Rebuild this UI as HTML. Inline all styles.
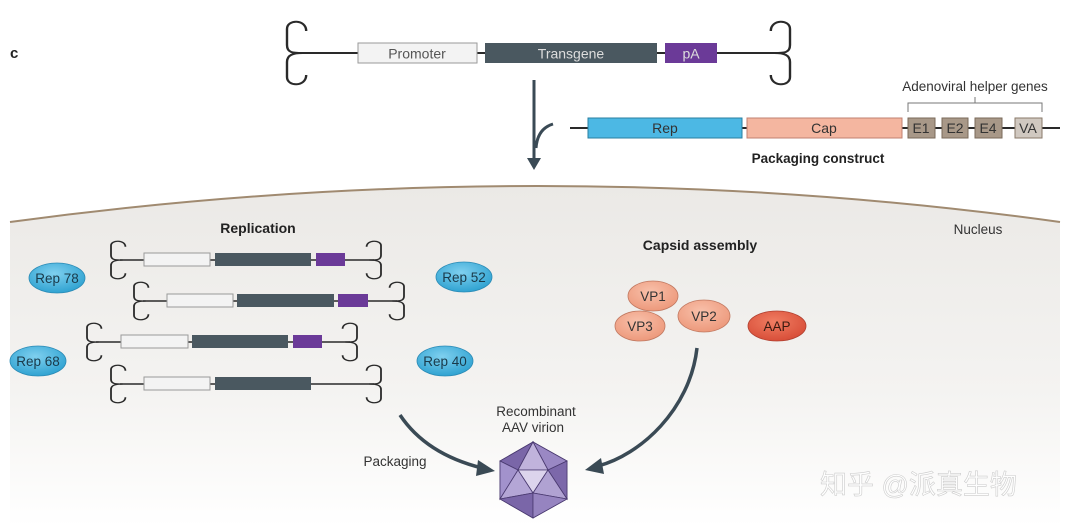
<!DOCTYPE html>
<html><head><meta charset="utf-8"><style>
html,body{margin:0;padding:0;background:#fff;}
svg{display:block;font-family:"Liberation Sans","Noto Sans CJK SC",sans-serif;}
</style></head><body>
<svg width="1080" height="527" viewBox="0 0 1080 527" xmlns="http://www.w3.org/2000/svg">
<defs>
<linearGradient id="nuc" x1="0" y1="0" x2="0" y2="1">
<stop offset="0" stop-color="#ebe9e6"/><stop offset="0.6" stop-color="#f4f3f1"/><stop offset="1" stop-color="#ffffff"/></linearGradient>
<radialGradient id="rep" cx="0.45" cy="0.35" r="0.7"><stop offset="0" stop-color="#7fd0ef"/><stop offset="1" stop-color="#2a9fcf"/></radialGradient>
<radialGradient id="vp" cx="0.45" cy="0.35" r="0.7"><stop offset="0" stop-color="#f8c0aa"/><stop offset="1" stop-color="#ec9678"/></radialGradient>
<radialGradient id="aap" cx="0.45" cy="0.35" r="0.7"><stop offset="0" stop-color="#f07d62"/><stop offset="1" stop-color="#d64a35"/></radialGradient>
<path id="itrL" d="M16,-22 C16,-34 0,-34 0,-24 L0,-8 C0,0 5,0 13,0 M13,0 C5,0 0,2 0,9 L0,24 C0,34 16,34 16,22" fill="none" stroke="#2a2a2a" stroke-width="2"/>
<path id="itrR" d="M-16,-22 C-16,-34 0,-34 0,-24 L0,-8 C0,0 -5,0 -13,0 M-13,0 C-5,0 0,2 0,9 L0,24 C0,34 -16,34 -16,22" fill="none" stroke="#2a2a2a" stroke-width="2"/>
</defs>
<!-- nucleus -->
<path d="M10,222 Q540,150 1060,222 L1060,527 L10,527 Z" fill="url(#nuc)"/>
<path d="M10,222 Q540,150 1060,222" fill="none" stroke="#a08a70" stroke-width="2"/>

<text x="10" y="58" font-size="15" font-weight="bold" fill="#222">c</text>

<!-- top vector -->
<line x1="298" y1="53" x2="778" y2="53" stroke="#2a2a2a" stroke-width="2"/>
<g transform="translate(287,53) scale(1.2,1.0)"><use href="#itrL"/></g>
<g transform="translate(790,53) scale(1.2,1.0)"><use href="#itrR"/></g>
<rect x="358" y="43" width="119" height="20" fill="#f3f3f3" stroke="#999"/>
<rect x="485" y="43" width="172" height="20" fill="#4a5860"/>
<rect x="665" y="43" width="52" height="20" fill="#6b3a98"/>
<text x="417" y="58.5" font-size="14" fill="#555" text-anchor="middle">Promoter</text>
<text x="571" y="58.5" font-size="14" fill="#ddd" text-anchor="middle">Transgene</text>
<text x="691" y="58.5" font-size="14" fill="#ddd" text-anchor="middle">pA</text>

<!-- arrow down -->
<line x1="534" y1="80" x2="534" y2="160" stroke="#3a4a55" stroke-width="3"/>
<path d="M527,158 L541,158 L534,170 Z" fill="#3a4a55"/>
<path d="M553,124 C543,127 537,135 536,148" fill="none" stroke="#3a4a55" stroke-width="3"/>

<!-- packaging construct -->
<line x1="570" y1="128" x2="1060" y2="128" stroke="#2a2a2a" stroke-width="2"/>
<rect x="588" y="118" width="154" height="20" fill="#4cb8e4" stroke="#2a7fa0"/>
<rect x="747" y="118" width="155" height="20" fill="#f4b6a0" stroke="#c08070"/>
<rect x="908" y="118" width="27" height="20" fill="#a89888" stroke="#7a6a5a"/>
<rect x="942" y="118" width="26" height="20" fill="#a89888" stroke="#7a6a5a"/>
<rect x="975" y="118" width="27" height="20" fill="#a89888" stroke="#7a6a5a"/>
<rect x="1015" y="118" width="27" height="20" fill="#d0c8c0" stroke="#8a7a6a"/>
<g font-size="14" text-anchor="middle" fill="#333">
<text x="665" y="133">Rep</text><text x="824" y="133">Cap</text>
<text x="921" y="133">E1</text><text x="955" y="133">E2</text><text x="988" y="133">E4</text><text x="1028" y="133">VA</text>
<text x="975" y="91" font-size="13.5">Adenoviral helper genes</text>
<text x="818" y="163" font-weight="bold" font-size="13.5" fill="#222">Packaging construct</text>
</g>
<path d="M908,112 L908,103 L1042,103 L1042,112 M975,103 L975,97" fill="none" stroke="#777" stroke-width="1"/>

<!-- replication -->
<text x="258" y="233" font-size="14" font-weight="bold" fill="#222" text-anchor="middle">Replication</text>
<g id="rows">
<!-- row1 -->
<line x1="120" y1="260" x2="374" y2="260" stroke="#2a2a2a" stroke-width="1.5"/>
<g transform="translate(111,260) scale(0.9,0.6)"><use href="#itrL"/></g>
<g transform="translate(381,260) scale(0.9,0.6)"><use href="#itrR"/></g>
<rect x="144" y="253" width="66" height="13" fill="#f3f3f3" stroke="#999"/>
<rect x="215" y="253" width="96" height="13" fill="#4a5860"/>
<rect x="316" y="253" width="29" height="13" fill="#6b3a98"/>
<!-- row2 -->
<line x1="143" y1="301" x2="397" y2="301" stroke="#2a2a2a" stroke-width="1.5"/>
<g transform="translate(134,301) scale(0.9,0.6)"><use href="#itrL"/></g>
<g transform="translate(404,301) scale(0.9,0.6)"><use href="#itrR"/></g>
<rect x="167" y="294" width="66" height="13" fill="#f3f3f3" stroke="#999"/>
<rect x="237" y="294" width="97" height="13" fill="#4a5860"/>
<rect x="338" y="294" width="30" height="13" fill="#6b3a98"/>
<!-- row3 -->
<line x1="96" y1="342" x2="350" y2="342" stroke="#2a2a2a" stroke-width="1.5"/>
<g transform="translate(87,342) scale(0.9,0.6)"><use href="#itrL"/></g>
<g transform="translate(357,342) scale(0.9,0.6)"><use href="#itrR"/></g>
<rect x="121" y="335" width="67" height="13" fill="#f3f3f3" stroke="#999"/>
<rect x="192" y="335" width="96" height="13" fill="#4a5860"/>
<rect x="293" y="335" width="29" height="13" fill="#6b3a98"/>
<!-- row4 -->
<line x1="120" y1="384" x2="374" y2="384" stroke="#2a2a2a" stroke-width="1.5"/>
<g transform="translate(111,384) scale(0.9,0.6)"><use href="#itrL"/></g>
<g transform="translate(381,384) scale(0.9,0.6)"><use href="#itrR"/></g>
<rect x="144" y="377" width="66" height="13" fill="#f3f3f3" stroke="#999"/>
<rect x="215" y="377" width="96" height="13" fill="#4a5860"/>
</g>

<g font-size="13.5" fill="#1a3a4a" text-anchor="middle">
<ellipse cx="57" cy="278" rx="28" ry="15" fill="url(#rep)" stroke="#2a8ab5" stroke-width="0.8"/><text x="57" y="283">Rep 78</text>
<ellipse cx="464" cy="277" rx="28" ry="15" fill="url(#rep)" stroke="#2a8ab5" stroke-width="0.8"/><text x="464" y="282">Rep 52</text>
<ellipse cx="38" cy="361" rx="28" ry="15" fill="url(#rep)" stroke="#2a8ab5" stroke-width="0.8"/><text x="38" y="366">Rep 68</text>
<ellipse cx="445" cy="361" rx="28" ry="15" fill="url(#rep)" stroke="#2a8ab5" stroke-width="0.8"/><text x="445" y="366">Rep 40</text>
</g>

<!-- capsid -->
<text x="700" y="250" font-size="14" font-weight="bold" fill="#222" text-anchor="middle">Capsid assembly</text>
<text x="978" y="234" font-size="13.5" fill="#333" text-anchor="middle">Nucleus</text>
<g font-size="13.5" fill="#333" text-anchor="middle">
<ellipse cx="653" cy="296" rx="25" ry="15" fill="url(#vp)" stroke="#c07860" stroke-width="0.8"/><text x="653" y="301">VP1</text>
<ellipse cx="640" cy="326" rx="25" ry="15" fill="url(#vp)" stroke="#c07860" stroke-width="0.8"/><text x="640" y="331">VP3</text>
<ellipse cx="704" cy="316" rx="26" ry="16" fill="url(#vp)" stroke="#c07860" stroke-width="0.8"/><text x="704" y="321">VP2</text>
<ellipse cx="777" cy="326" rx="29" ry="15" fill="url(#aap)" stroke="#b04030" stroke-width="0.8"/><text x="777" y="331" fill="#3a1a10">AAP</text>
</g>

<!-- arrows to virion -->
<path d="M400,415 C420,445 450,460 482,468" fill="none" stroke="#3a4a55" stroke-width="3.5"/>
<path d="M478,460 L495,471 L476,476 Z" fill="#3a4a55"/>
<path d="M697,348 C690,410 640,455 598,466" fill="none" stroke="#3a4a55" stroke-width="3.5"/>
<path d="M601,458 L585,470 L604,474 Z" fill="#3a4a55"/>
<text x="395" y="466" font-size="13.5" fill="#333" text-anchor="middle">Packaging</text>
<text x="536" y="416" font-size="13.5" fill="#333" text-anchor="middle">Recombinant</text>
<text x="533" y="432" font-size="13.5" fill="#333" text-anchor="middle">AAV virion</text>

<!-- virion -->
<g stroke="#4a3a70" stroke-width="0.8">
<polygon points="533,442 567,461 567,499 533,518 500,499 500,461" fill="#8b78b8"/>
<polygon points="533,442 500,461 518,470" fill="#7a66a8"/>
<polygon points="533,442 567,461 548,470" fill="#9a88c4"/>
<polygon points="533,442 518,470 548,470" fill="#c0b3dc"/>
<polygon points="518,470 548,470 533,493" fill="#dcd4ec"/>
<polygon points="500,461 518,470 500,499" fill="#a292cc"/>
<polygon points="567,461 548,470 567,499" fill="#7c68aa"/>
<polygon points="518,470 533,493 500,499" fill="#b4a6d6"/>
<polygon points="548,470 533,493 567,499" fill="#b0a2d2"/>
<polygon points="500,499 533,493 533,518" fill="#7a66a8"/>
<polygon points="567,499 533,493 533,518" fill="#9684c0"/>
</g>

<text x="820" y="494" font-size="27" fill="#ffffff" stroke="#c8c8c8" stroke-width="0.6" opacity="0.9">知乎 @派真生物</text>
</svg>
</body></html>
